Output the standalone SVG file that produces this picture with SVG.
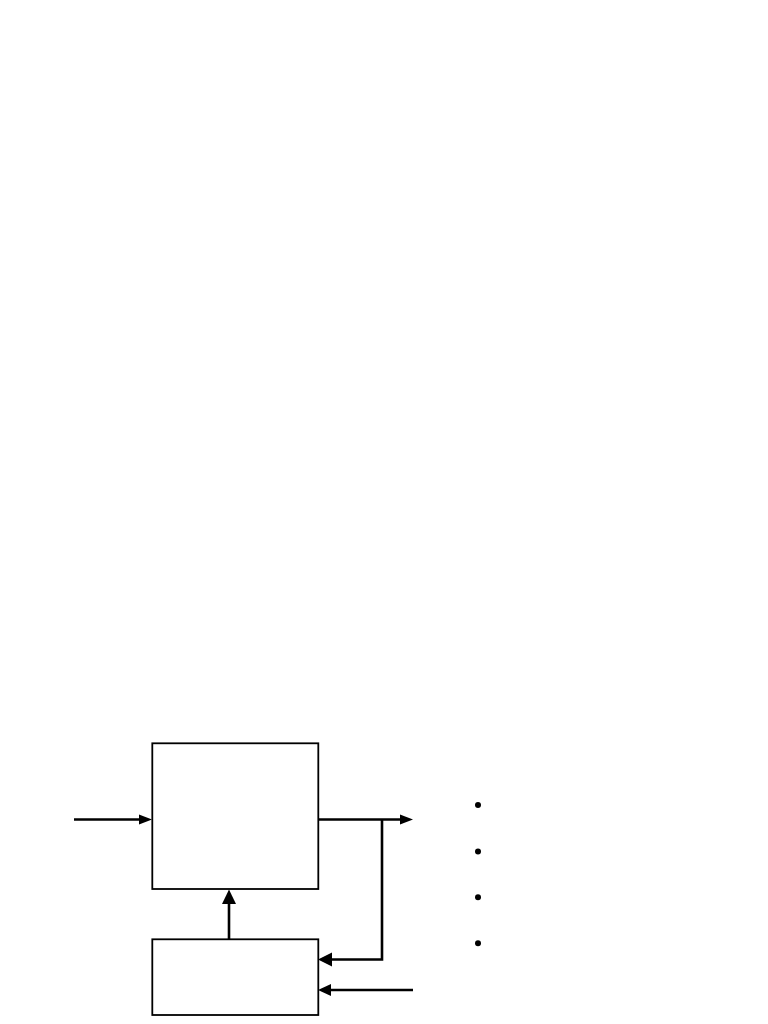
<svg xmlns="http://www.w3.org/2000/svg" width="768" height="1024" viewBox="0 0 768 1024">
<style>
.box{fill:#fff;stroke:#000;stroke-width:1.8}
.line{fill:none;stroke:#000;stroke-width:2.6}
.dot{fill:#000}
</style>
<rect width="768" height="1024" fill="#fff"/>
<g id="connectors">
<path class="line" d="M74 819.5 H141"/>
<polygon points="152,819.5 139,814.5 139,824.5"/>
<path class="line" d="M318 819.5 H401"/>
<polygon points="413,819.5 400,814.5 400,824.5"/>
<path class="line" d="M382 819.5 V959.5 H330"/>
<polygon points="318,959.5 332,952.5 332,966.5"/>
<path class="line" d="M413 990 H330"/>
<polygon points="318,990 331,984 331,996"/>
<path class="line" d="M229 939 V903"/>
<polygon points="229,889.5 222,904 236,904"/>
</g>
<g id="block-top"><rect class="box" x="152.3" y="743.3" width="166" height="145.7"/></g>
<g id="block-bottom"><rect class="box" x="152.3" y="939.3" width="166" height="75.7"/></g>
<g id="dots">
<circle class="dot" cx="478" cy="805" r="3"/>
<circle class="dot" cx="478" cy="851.5" r="3"/>
<circle class="dot" cx="478" cy="897.3" r="3"/>
<circle class="dot" cx="478" cy="943.3" r="3"/>
</g>
</svg>
